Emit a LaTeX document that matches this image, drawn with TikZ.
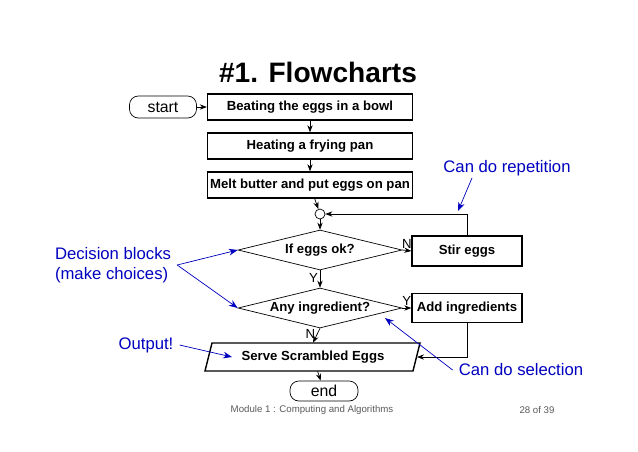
\documentclass[tikz,border=0pt]{standalone}
\usepackage{fontspec}
\setmainfont{Liberation Sans}
\usetikzlibrary{shapes.geometric,arrows.meta}
\begin{document}
\begin{tikzpicture}[x=0.02cm,y=-0.02cm,
 box/.style={draw,thick,font=\bfseries\fontsize{7.5}{9}\selectfont,minimum height=0.52cm,inner sep=1pt},
 term/.style={draw,rounded corners=5pt,font=\fontsize{9}{10}\selectfont,inner sep=1pt},
 dec/.style={draw,diamond,aspect=4.2,font=\bfseries\fontsize{7.5}{9}\selectfont,inner sep=0pt,minimum width=3.28cm,minimum height=0.8cm},
 arr/.style={-{Stealth[length=4pt]}},
 note/.style={text=blue!75!black,font=\fontsize{9.5}{11.5}\selectfont,align=left},
 narr/.style={blue!75!black,-{Stealth[length=5pt]}},
 lab/.style={font=\fontsize{7.5}{8}\selectfont,inner sep=1pt}]
\useasboundingbox (0,0) rectangle (638,451);
\node[font=\bfseries\fontsize{16}{18}\selectfont] (title) at (318,72) {\#1. Flowcharts};
\node[term,minimum width=1.34cm,minimum height=0.44cm] (start) at (163,107) {start};
\node[box,minimum width=4.1cm] (b1) at (310,107) {Beating the eggs in a bowl};
\node[box,minimum width=4.1cm] (b2) at (310,146) {Heating a frying pan};
\node[box,minimum width=4.1cm] (b3) at (310,185) {Melt butter and put eggs on pan};
\node[draw,circle,minimum size=0.2cm,inner sep=0pt] (c) at (320,214) {};
\node[dec] (d1) at (320,250) {If eggs ok?};
\node[box,minimum width=2.2cm,minimum height=0.6cm] (stir) at (467,251) {Stir eggs};
\node[dec] (d2) at (320,308) {Any ingredient?};
\node[box,minimum width=2.2cm,minimum height=0.58cm] (add) at (467,308) {Add ingredients};
\node[font=\bfseries\fontsize{7.5}{9}\selectfont,minimum width=4cm,minimum height=0.56cm,inner sep=0pt] (serve) at (313,357) {Serve Scrambled Eggs};
\draw[thick] (212,343) -- (420,343) -- (413,371) -- (205,371) -- cycle;
\node[term,minimum width=1.36cm,minimum height=0.4cm] (end) at (324,391) {end};
\draw[arr] (start) -- (b1);
\draw[arr] (b1) -- (b2);
\draw[arr] (b2) -- (b3);
\draw[arr] (b3) -- (c);
\draw[arr] (c) -- (d1);
\draw[arr] (d1.east) -- node[lab,above]{N} (stir.west);
\draw[arr] (stir.north) |- (c.east);
\draw[arr] (d1.south) -- node[lab,left,pos=0.45]{Y} (d2.north);
\draw[arr] (d2.east) -- node[lab,above]{Y} (add.west);
\coordinate (j) at (417,357);
\draw[arr] (add.south) |- (j);
\draw[arr] (d2.south) -- node[lab,left,pos=0.4]{N} (serve.north);
\draw[arr] (serve) -- (end);
\node[note] (rep) at (507,168) {Can do repetition};
\coordinate (rt) at (458,211);
\draw[narr] (472,178) -- (rt);
\node[note] (decn) at (113,265) {Decision blocks\\(make choices)};
\draw[narr] (decn.east) -- (d1.west);
\draw[narr] (decn.east) -- (d2.west);
\node[note] (out) at (146,345) {Output!};
\draw[narr] (out.east) -- (232,357);
\node[note] (sel) at (521,370) {Can do selection};
\draw[narr] (sel.west) -- (385,318);
\node[font=\fontsize{5.5}{6}\selectfont,text=gray!70!black] (foot) at (312,410) {Module 1 : Computing and Algorithms};
\node[font=\fontsize{5.5}{6}\selectfont,text=gray!70!black] (pg) at (537,410) {28 of 39};
\end{tikzpicture}
\end{document}
